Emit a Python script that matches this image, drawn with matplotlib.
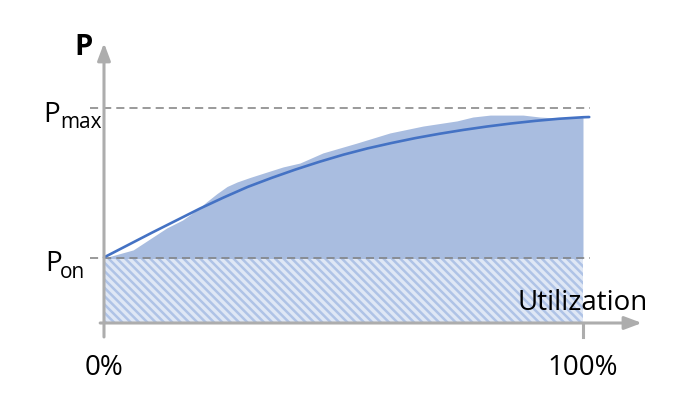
import matplotlib
matplotlib.use("Agg")
import matplotlib.pyplot as plt

# power model curve (utilization -> P, P_max = 1.0)
util = [0.0, 0.1, 0.2, 0.25, 0.3, 0.35, 0.4, 0.45, 0.5, 0.55, 0.6, 0.65, 0.7,
        0.75, 0.8, 0.85, 0.9, 0.95, 1.0, 1.013]
power = [0.305, 0.420, 0.532, 0.584, 0.633, 0.675, 0.714, 0.750, 0.783, 0.812,
         0.837, 0.860, 0.880, 0.898, 0.914, 0.928, 0.940, 0.950, 0.957, 0.958]

# measured power (filled area)
meas_util = [0.0, 0.061, 0.131, 0.164, 0.194, 0.215, 0.236, 0.257, 0.278, 0.305,
             0.340, 0.374, 0.409, 0.457, 0.528, 0.597, 0.666, 0.737, 0.770, 0.806,
             0.875, 0.910, 0.946, 1.0]
meas_power = [0.302, 0.340, 0.442, 0.479, 0.526, 0.565, 0.602, 0.635, 0.656, 0.677,
              0.702, 0.726, 0.744, 0.791, 0.837, 0.884, 0.916, 0.940, 0.958, 0.967,
              0.967, 0.958, 0.953, 0.958]

p_on = 0.3
p_max = 1.0
x_ticks = [0.0, 1.0]
x_labels = ["0%", "100%"]

plt.rcParams["font.family"] = ["Open Sans", "DejaVu Sans"]
plt.rcParams["hatch.linewidth"] = 1.8

fig = plt.figure(figsize=(6.98, 4.19), dpi=100)
ax = fig.add_axes([0, 0, 1, 1])
ax.set_xlim(-0.2171, 1.2401)
ax.set_ylim(-0.4465, 1.5023)
ax.axis("off")

blue = "#4472C4"
fill_blue = "#A9BDE0"
gray = "#ADADAD"
dash_gray = "#7F7F7F"

# idle power (hatched)
ax.fill_between([0, 1], 0, p_on, facecolor="#DFE7F5", hatch="\\\\\\\\",
                edgecolor="#AFC3E6", lw=0, zorder=1)
# dynamic power (filled)
ax.fill_between(meas_util, p_on, meas_power, color=fill_blue, lw=0, zorder=1)

# reference levels
for lvl in [p_on, p_max]:
    ax.plot([-0.029, 1.015], [lvl, lvl], color=dash_gray, lw=1.1,
            dashes=(5.3, 3.3), zorder=2)

ax.plot(util, power, color=blue, lw=1.9, zorder=3, solid_capstyle="round",
        solid_joinstyle="round")

# axes with arrows
arrow = dict(arrowstyle="-|>,head_length=0.8,head_width=0.3", mutation_scale=13,
             color=gray, lw=2.2, shrinkA=0, shrinkB=0)
ax.annotate("", xy=(1.123, 0), xytext=(-0.008, 0), arrowprops=arrow, zorder=4)
ax.annotate("", xy=(0, 1.302), xytext=(0, -0.065), arrowprops=arrow, zorder=4)
ax.plot([1.0, 1.0], [0, -0.065], color=gray, lw=2.2, zorder=4)

# labels
ax.text(-0.061, 1.247, "P", fontsize=21, fontweight="bold", va="baseline", ha="left")
ax.text(-0.127, 0.935, "P", fontsize=20, va="baseline", ha="left")
ax.text(-0.092, 0.907, "max", fontsize=15, va="baseline", ha="left")
ax.text(-0.123, 0.242, "P", fontsize=20, va="baseline", ha="left")
ax.text(-0.092, 0.209, "on", fontsize=15, va="baseline", ha="left")
ax.text(0.864, 0.060, "Utilization", fontsize=20, va="baseline", ha="left", zorder=5)
for xt, lab in zip(x_ticks, x_labels):
    ax.text(xt, -0.242, lab, fontsize=20, va="baseline", ha="center")

fig.savefig("out.png", dpi=100)
